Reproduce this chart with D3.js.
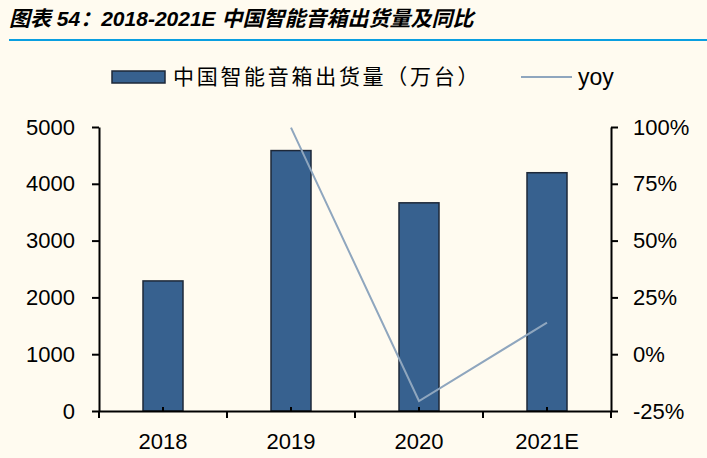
<!DOCTYPE html>
<html>
<head>
<meta charset="utf-8">
<script src="https://cdn.jsdelivr.net/npm/d3@7"></script>
<style>
  body { margin: 0; background: #fffbf0; }
  svg { display: block; }
</style>
</head>
<body>
<script>
// chart data
var years = ["2018", "2019", "2020", "2021E"];
var shipments = [2290, 4585, 3665, 4195];   // 万台
var yoy = [null, 99.7, -20.6, 13.9];        // %
var leftTicks = [0, 1000, 2000, 3000, 4000, 5000];
var rightTicks = [-25, 0, 25, 50, 75, 100];

var W = 707, H = 458;
//note: "top" is taken by window.top, so use plot* names
var plotLeft = 99, plotRight = 611, plotTop = 127, plotBottom = 411;

var svg = d3.select("body").append("svg")
    .attr("width", W)
    .attr("height", H)
    .style("background", "#fffbf0");

//title + blue rule
svg.append("text")
    .attr("x", 9)
    .attr("y", 26)
    .attr("font-family", "'Liberation Sans', 'Noto Sans CJK SC', sans-serif")
    .attr("font-size", "21px")
    .attr("font-weight", "bold")
    .attr("font-style", "italic")
    .attr("fill", "#000")
    .text("图表 54：2018-2021E 中国智能音箱出货量及同比");

svg.append("line")
    .attr("x1", 9).attr("x2", W)
    .attr("y1", 40).attr("y2", 40)
    .attr("stroke", "#0a9fe0")
    .attr("stroke-width", 2);

//scales
var x = d3.scaleBand()
    .domain(years)
    .range([plotLeft, plotRight])
    .paddingInner(0.6875)
    .paddingOuter(0.34375);

var xb = d3.scaleBand().domain(years).range([plotLeft, plotRight]).padding(0);

var y = d3.scaleLinear().domain([0, 5000]).range([plotBottom, plotTop]);
var y2 = d3.scaleLinear().domain([-25, 100]).range([plotBottom, plotTop]);

var barColor = "#37618f";
var lineColor = "#8fa6be";

//bars
svg.selectAll("rect.bar")
    .data(shipments)
    .enter()
    .append("rect")
    .attr("class", "bar")
    .attr("x", function(d, i) { return x(years[i]); })
    .attr("y", function(d) { return y(d); })
    .attr("width", x.bandwidth())
    .attr("height", function(d) { return y(0) - y(d); })
    .attr("fill", barColor)
    .attr("stroke", "#1e2838")
    .attr("stroke-width", 1.5);

//yoy line
var line = d3.line()
    .defined(function(d) { return d != null; })
    .x(function(d, i) { return x(years[i]) + x.bandwidth() / 2; })
    .y(function(d) { return y2(d); });

svg.append("path")
    .datum(yoy)
    .attr("d", line)
    .attr("fill", "none")
    .attr("stroke", lineColor)
    .attr("stroke-width", 2);

//axes
var tickFont = "'Liberation Sans', Arial, sans-serif";

var yAxis = svg.append("g")
    .attr("transform", "translate(" + plotLeft + ",0)")
    .call(d3.axisLeft(y).tickValues(leftTicks).tickSize(7).tickPadding(17).tickSizeOuter(0)
        .tickFormat(d3.format("d")));

var y2Axis = svg.append("g")
    .attr("transform", "translate(" + plotRight + ",0)")
    .call(d3.axisRight(y2).tickValues(rightTicks).tickSize(7).tickPadding(15).tickSizeOuter(0)
        .tickFormat(function(d) { return d + "%"; }));

var xAxis = svg.append("g")
    .attr("transform", "translate(0," + plotBottom + ")")
    .call(d3.axisBottom(x).tickSizeInner(-4).tickSizeOuter(0).tickPadding(22));

//category boundary ticks
var bounds = years.map(function(d) { return xb(d); }).concat([plotRight]);
xAxis.selectAll("line.bound")
    .data(bounds)
    .enter()
    .append("line")
    .attr("class", "bound")
    .attr("x1", function(d) { return d; })
    .attr("x2", function(d) { return d; })
    .attr("y1", 0)
    .attr("y2", 7)
    .attr("stroke", "#000");

[yAxis, y2Axis, xAxis].forEach(function(g) {
    g.selectAll("path.domain").attr("stroke", "#000").attr("stroke-width", 2);
    g.selectAll("line").attr("stroke", "#000").attr("stroke-width", 2);
    g.selectAll("text")
        .attr("font-family", tickFont)
        .attr("font-size", "22px")
        .attr("fill", "#000");
});

//legend
svg.append("rect")
    .attr("x", 112).attr("y", 71)
    .attr("width", 53).attr("height", 12)
    .attr("fill", barColor)
    .attr("stroke", "#1e2838")
    .attr("stroke-width", 1.5);

svg.append("text")
    .attr("x", 173)
    .attr("y", 84)
    .attr("font-family", "'Noto Sans CJK SC', sans-serif")
    .attr("font-size", "21px")
    .attr("letter-spacing", "2.7px")
    .attr("fill", "#000")
    .text("中国智能音箱出货量（万台）");

svg.append("line")
    .attr("x1", 521).attr("x2", 572)
    .attr("y1", 77).attr("y2", 77)
    .attr("stroke", lineColor)
    .attr("stroke-width", 2);

svg.append("text")
    .attr("x", 578)
    .attr("y", 85)
    .attr("font-family", tickFont)
    .attr("font-size", "23px")
    .attr("fill", "#000")
    .text("yoy");
</script>
</body>
</html>
